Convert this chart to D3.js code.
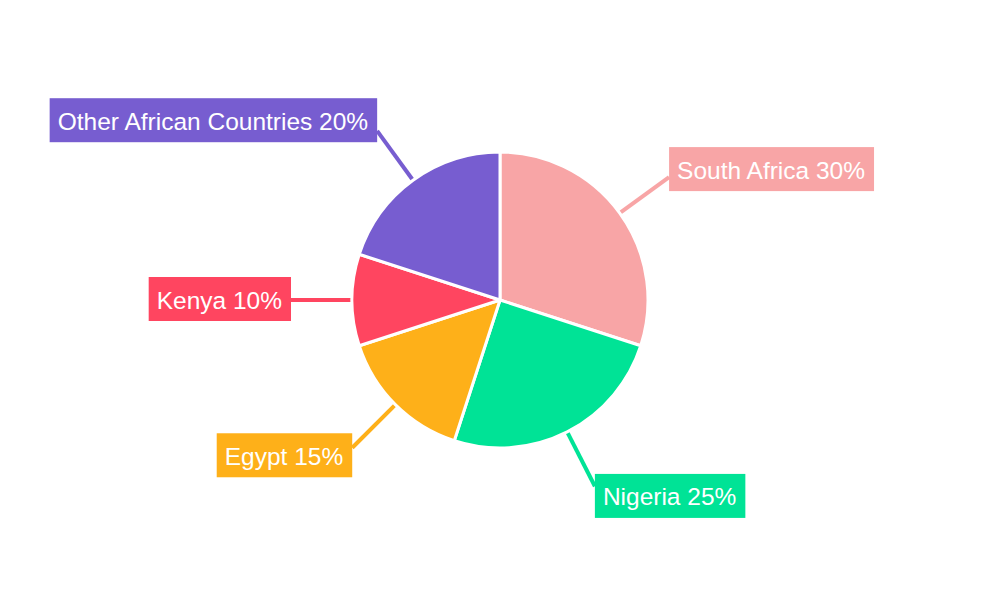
<!DOCTYPE html>
<html lang="en">
<head>
    <meta charset="UTF-8">
    <title>Share by country</title>
    <script src="https://d3js.org/d3.v7.min.js"></script>
    <style>
        body { margin: 0; background: #fff; }
        svg { font-family: "Liberation Sans", Arial, sans-serif; }
    </style>
</head>
<body>
    <script>
        const countries = ["South Africa", "Nigeria", "Egypt", "Kenya", "Other African Countries"];
        const shares = [30, 25, 15, 10, 20];
        const colors = ["#F8A5A6", "#00E396", "#FEB019", "#FF4560", "#775DD0"];

        const width = 1000;
        const height = 600;
        const cx = 500, cy = 300;
        const radius = 148;
        const lineEnd = 209;

        const svg = d3.select("body").append("svg")
            .attr("width", width)
            .attr("height", height);

        const data = countries.map((c, i) => ({ name: c, value: shares[i], color: colors[i] }));

        const pie = d3.pie()
            .value(d => d.value)
            .sort(null);

        const arc = d3.arc()
            .innerRadius(0)
            .outerRadius(radius);

        const arcs = pie(data);

        const g = svg.append("g")
            .attr("transform", `translate(${cx},${cy})`);

        // leader lines first, under the slices
        const pt = (a, r) => [Math.sin(a) * r, -Math.cos(a) * r];

        g.selectAll("line.leader")
            .data(arcs)
            .enter().append("line")
            .attr("class", "leader")
            .attr("x1", d => pt((d.startAngle + d.endAngle) / 2, radius - 4)[0])
            .attr("y1", d => pt((d.startAngle + d.endAngle) / 2, radius - 4)[1])
            .attr("x2", d => pt((d.startAngle + d.endAngle) / 2, lineEnd)[0])
            .attr("y2", d => pt((d.startAngle + d.endAngle) / 2, lineEnd)[1])
            .attr("stroke", d => d.data.color)
            .attr("stroke-width", 4);

        g.selectAll("path.slice")
            .data(arcs)
            .enter().append("path")
            .attr("class", "slice")
            .attr("d", arc)
            .attr("fill", d => d.data.color)
            .attr("stroke", "#fff")
            .attr("stroke-width", 3)
            .attr("stroke-linejoin", "round");

        const labels = g.selectAll("g.label")
            .data(arcs)
            .enter().append("g")
            .attr("class", "label");

        labels.each(function (d) {
            const a = (d.startAngle + d.endAngle) / 2;
            const [ax, ay] = pt(a, lineEnd);
            const node = d3.select(this);
            const text = node.append("text")
                .attr("fill", "#fff")
                .attr("font-size", 24.5)
                .attr("dominant-baseline", "central")
                .text(`${d.data.name} ${d.data.value}%`);
            const w = text.node().getComputedTextLength() + 17;
            const h = 44;
            const right = Math.sin(a) >= 0;
            const bx = right ? ax : ax - w;
            const bcy = ay - Math.cos(a) * 12 - 1;
            node.insert("rect", "text")
                .attr("x", bx)
                .attr("y", bcy - h / 2)
                .attr("width", w)
                .attr("height", h)
                .attr("fill", d.data.color);
            text.attr("x", bx + 8).attr("y", bcy + 1);
        });
    </script>
</body>
</html>
